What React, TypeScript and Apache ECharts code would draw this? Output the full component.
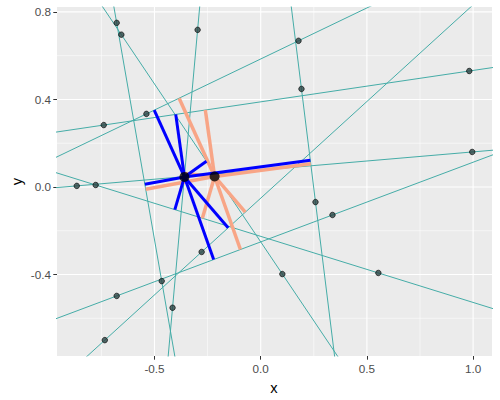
import React, { useEffect, useRef } from "react";
import * as echarts from "echarts";

// Data points (x, y)
const pointX = [-0.678, -0.656, -0.297, -0.538, -0.739, -0.866, -0.777, 0.178, 0.192, 0.982, 0.996, 0.258, 0.338, 0.102, 0.554, -0.278, -0.466, -0.678, -0.415, -0.734];
const pointY = [0.750, 0.696, 0.718, 0.334, 0.283, 0.005, 0.009, 0.668, 0.448, 0.530, 0.160, -0.069, -0.128, -0.398, -0.393, -0.297, -0.430, -0.498, -0.552, -0.700];
// Each line passes through two of the points (indices)
const lineFrom = [1, 0, 2, 8, 4, 3, 5, 6, 17, 19];
const lineTo = [13, 16, 18, 11, 9, 7, 10, 14, 12, 15];
// Two centre points
const centerA = [-0.359, 0.046];
const centerB = [-0.217, 0.048];
// Axis
const xLimits = [-0.959, 1.089];
const yLimits = [-0.7725, 0.8225];
const xTicks = [-0.5, 0, 0.5, 1.0];
const xMinor = [-0.75, -0.25, 0.25, 0.75];
const yTicks = [-0.4, 0, 0.4, 0.8];
const yMinor = [-0.6, -0.2, 0.2, 0.6];

const FONT = "Liberation Sans, Arial, sans-serif";

function foot(p: number[], a: number[], b: number[]) {
  const dx = b[0] - a[0];
  const dy = b[1] - a[1];
  const t = ((p[0] - a[0]) * dx + (p[1] - a[1]) * dy) / (dx * dx + dy * dy);
  return [a[0] + t * dx, a[1] + t * dy];
}

export default function App() {
  const ref = useRef<HTMLDivElement>(null);
  useEffect(() => {
    if (!ref.current) return;
    const chart = echarts.init(ref.current, null, { renderer: "svg" });
    const series: any[] = [];
    const gridLine = (data: number[][], w: number) => ({
      type: "line",
      data,
      symbol: "none",
      silent: true,
      lineStyle: { color: "#FFFFFF", width: w },
      z: 1,
    });
    xMinor.forEach((v) => series.push(gridLine([[v, yLimits[0]], [v, yLimits[1]]], 0.55)));
    yMinor.forEach((v) => series.push(gridLine([[xLimits[0], v], [xLimits[1], v]], 0.55)));
    xTicks.forEach((v) => series.push(gridLine([[v, yLimits[0]], [v, yLimits[1]]], 1.1)));
    yTicks.forEach((v) => series.push(gridLine([[xLimits[0], v], [xLimits[1], v]], 1.1)));

    const lines = lineFrom.map((f, i) => {
      const a = [pointX[f], pointY[f]];
      const b = [pointX[lineTo[i]], pointY[lineTo[i]]];
      return [a, b];
    });
    lines.forEach(([a, b]) => {
      const dx = b[0] - a[0];
      const dy = b[1] - a[1];
      const T = 20;
      series.push({
        type: "line",
        data: [
          [a[0] - T * dx, a[1] - T * dy],
          [b[0] + T * dx, b[1] + T * dy],
        ],
        symbol: "none",
        clip: true,
        silent: true,
        lineStyle: { color: "#45ACA7", width: 1 },
        z: 2,
      });
    });
    series.push({
      type: "scatter",
      data: pointX.map((x, i) => [x, pointY[i]]),
      symbolSize: 5.5,
      itemStyle: { color: "#2B4444", borderColor: "#000000", borderWidth: 0.8 },
      z: 3,
    });
    lines.forEach(([a, b]) => {
      const f = foot(centerB, a, b);
      series.push({
        type: "line",
        data: [centerB, f],
        symbol: "none",
        silent: true,
        lineStyle: { color: "#F8A586", width: 3.5, cap: "butt" },
        z: 4,
      });
    });
    lines.forEach(([a, b]) => {
      const f = foot(centerA, a, b);
      series.push({
        type: "line",
        data: [centerA, f],
        symbol: "none",
        silent: true,
        lineStyle: { color: "#0000FF", width: 3, cap: "butt" },
        z: 5,
      });
    });
    series.push({
      type: "scatter",
      data: [centerA, centerB],
      symbolSize: 10,
      itemStyle: { color: "#000000" },
      z: 6,
    });

    chart.setOption({
      animation: false,
      backgroundColor: "#FFFFFF",
      grid: { left: 57, right: 8, top: 7, bottom: 44, show: true, backgroundColor: "#EBEBEB", borderWidth: 0 },
      xAxis: {
        type: "value",
        min: xLimits[0],
        max: xLimits[1],
        axisLine: { show: false, onZero: false },
        splitLine: { show: false },
        axisTick: { show: true, customValues: xTicks, length: 3.7, lineStyle: { color: "#333333", width: 1 } },
        axisLabel: {
          customValues: xTicks,
          formatter: (v: number) => v.toFixed(1),
          color: "#4D4D4D",
          fontSize: 11.7,
          fontFamily: FONT,
          margin: 6,
        },
      },
      yAxis: {
        type: "value",
        min: yLimits[0],
        max: yLimits[1],
        axisLine: { show: false, onZero: false },
        splitLine: { show: false },
        axisTick: { show: true, customValues: yTicks, length: 3.7, lineStyle: { color: "#333333", width: 1 } },
        axisLabel: {
          customValues: yTicks,
          formatter: (v: number) => v.toFixed(1),
          color: "#4D4D4D",
          fontSize: 11.7,
          fontFamily: FONT,
          margin: 6,
        },
      },
      graphic: [
        {
          type: "text",
          x: 274,
          y: 388,
          style: { text: "x", fontSize: 14.7, fontFamily: FONT, fill: "#000000", align: "center", verticalAlign: "middle" },
        },
        {
          type: "text",
          x: 16.5,
          y: 181.5,
          rotation: Math.PI / 2,
          style: { text: "y", fontSize: 14.7, fontFamily: FONT, fill: "#000000", align: "center", verticalAlign: "middle" },
        },
      ],
      series,
    });
    return () => chart.dispose();
  }, []);
  return <div ref={ref} style={{ position: "fixed", left: 0, top: 0, width: 500, height: 400 }} />;
}
